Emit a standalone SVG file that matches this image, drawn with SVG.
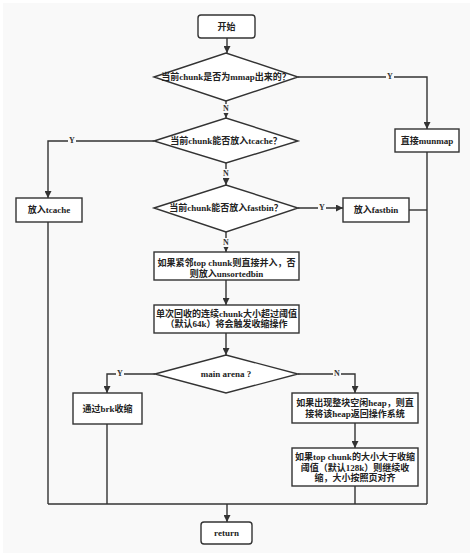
<svg xmlns="http://www.w3.org/2000/svg" width="474" height="559" viewBox="0 0 474 559">
<defs>
<marker id="ah" viewBox="0 0 10 10" refX="10" refY="5" markerWidth="7" markerHeight="7" markerUnits="userSpaceOnUse" orient="auto">
<path d="M0,0 L10,5 L0,10 z" fill="#333"/>
</marker>
<style>
.box{fill:#fff;stroke:#333;stroke-width:1.4}
.ln{fill:none;stroke:#333;stroke-width:1.4}
.ar{fill:none;stroke:#333;stroke-width:1.4;marker-end:url(#ah)}
.t{font-family:"Liberation Serif","Noto Sans CJK SC",serif;font-size:9px;font-weight:bold;fill:#222;text-anchor:middle;dominant-baseline:central}
.lb{font-family:"Liberation Serif",serif;font-size:8px;font-weight:bold;fill:#333;text-anchor:middle;dominant-baseline:central}
.lbg{fill:#f9f9f9}
</style>
</defs>
<rect x="0" y="0" width="474" height="559" fill="#fff"/>
<rect x="3" y="3" width="467" height="550" fill="#f9f9f9"/>

<g id="connectors">
<path class="ar" d="M227,38 V53"/>
<path class="ar" d="M226,101 V118"/>
<path class="ar" d="M298,77 H427 V129"/>
<path class="ar" d="M154,141 H48 V198"/>
<path class="ar" d="M226,163 V185"/>
<path class="ar" d="M298,208 H343"/>
<path class="ln" d="M409,210 H427"/>
<path class="ar" d="M226,232 V252"/>
<path class="ar" d="M226,280 V305"/>
<path class="ar" d="M226,333 V355"/>
<path class="ar" d="M155,374 H107 V393"/>
<path class="ar" d="M298,374 H355 V393"/>
<path class="ar" d="M355,423 V448"/>
<path class="ln" d="M48,222 V504"/>
<path class="ln" d="M107,424 V504"/>
<path class="ln" d="M355,486 V504"/>
<path class="ln" d="M427,152 V504"/>
<path class="ln" d="M48,504 H427"/>
<path class="ar" d="M227,504 V522"/>
<g id="labels">
<rect class="lbg" x="222" y="104" width="8" height="9"/><text class="lb" x="226" y="108.5">N</text>
<rect class="lbg" x="386" y="72" width="8" height="9"/><text class="lb" x="390" y="76.5">Y</text>
<rect class="lbg" x="68" y="136" width="8" height="9"/><text class="lb" x="72" y="140.5">Y</text>
<rect class="lbg" x="222" y="169" width="8" height="9"/><text class="lb" x="226" y="173.5">N</text>
<rect class="lbg" x="318" y="203" width="8" height="9"/><text class="lb" x="322" y="207.5">Y</text>
<rect class="lbg" x="222" y="238" width="8" height="9"/><text class="lb" x="226" y="242.5">N</text>
<rect class="lbg" x="116" y="369" width="8" height="9"/><text class="lb" x="120" y="373.5">Y</text>
<rect class="lbg" x="333" y="369" width="8" height="9"/><text class="lb" x="337" y="373.5">N</text>
</g>
</g>

<g id="start"><rect class="box" x="198" y="15" width="57" height="23" rx="3"/><text class="t" x="226.5" y="26.5">开始</text></g>
<g id="d1"><polygon class="box" points="154,77 226,53 298,77 226,101"/><text class="t" x="226" y="77">当前chunk是否为mmap出来的？</text></g>
<g id="munmap"><rect class="box" x="395" y="129" width="64" height="23"/><text class="t" x="427" y="140.5">直接munmap</text></g>
<g id="d2"><polygon class="box" points="154,141 226,118 298,141 226,163"/><text class="t" x="226" y="141">当前chunk能否放入tcache？</text></g>
<g id="tcache"><rect class="box" x="16" y="198" width="66" height="24"/><text class="t" x="49" y="210">放入tcache</text></g>
<g id="d3"><polygon class="box" points="154,208 226,185 298,208 226,232"/><text class="t" x="226" y="208">当前chunk能否放入fastbin？</text></g>
<g id="fastbin"><rect class="box" x="343" y="198" width="66" height="24"/><text class="t" x="376" y="210">放入fastbin</text></g>
<g id="merge"><rect class="box" x="154" y="252" width="145" height="28"/><text class="t" x="226.5" y="263">如果紧邻top chunk则直接并入，否</text><text class="t" x="226.5" y="273.5">则放入unsortedbin</text></g>
<g id="consolidate"><rect class="box" x="154" y="305" width="145" height="28"/><text class="t" x="226.5" y="313.5">单次回收的连续chunk大小超过阈值</text><text class="t" x="226.5" y="324">（默认64k）将会触发收缩操作</text></g>
<g id="d4"><polygon class="box" points="155,374 226,355 298,374 226,393"/><text class="t" x="226" y="374">main arena ?</text></g>
<g id="brk"><rect class="box" x="73" y="393" width="69" height="31"/><text class="t" x="107.5" y="409">通过brk收缩</text></g>
<g id="heap"><rect class="box" x="292" y="393" width="126" height="30"/><text class="t" x="355" y="403">如果出现整块空闲heap，则直</text><text class="t" x="355" y="414">接将该heap返回操作系统</text></g>
<g id="trim"><rect class="box" x="292" y="448" width="126" height="38"/><text class="t" x="355" y="457">如果top chunk的大小大于收缩</text><text class="t" x="355" y="467.5">阈值（默认128k）则继续收</text><text class="t" x="355" y="478">缩，大小按照页对齐</text></g>
<g id="return"><rect class="box" x="201" y="522" width="51" height="22" rx="3"/><text class="t" x="226.5" y="533">return</text></g>
</svg>
